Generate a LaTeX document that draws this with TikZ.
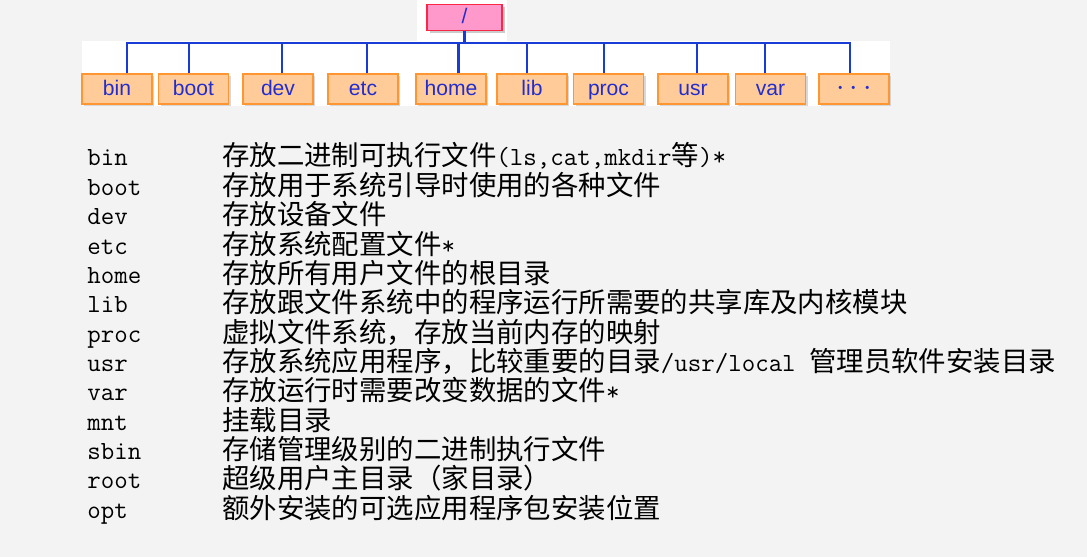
\documentclass[tikz,border=0pt]{standalone}
\usepackage{fontspec}
\setmainfont{Liberation Sans}
\newfontfamily\zh{Noto Sans CJK SC}
\usetikzlibrary{calc, shadows}
\definecolor{pagegray}{RGB}{243,243,243}
\definecolor{busblue}{RGB}{25,60,215}
\definecolor{labelblue}{RGB}{35,45,205}
\definecolor{rootpink}{RGB}{255,153,204}
\definecolor{rootred}{RGB}{250,40,70}
\definecolor{dirfill}{RGB}{255,204,153}
\definecolor{dirline}{RGB}{255,150,50}
\newcommand{\tx}[1]{{\ttfamily\fontsize{14.9}{17}\selectfont #1}}

\tikzset{
  rootbox/.style={draw=rootred, fill=rootpink, line width=0.8pt,
    minimum width=1.5cm, minimum height=0.52cm, inner sep=0pt,
    text height=1.6ex, text depth=0.3ex,
    text=labelblue, font=\fontsize{12}{13}\selectfont,
    drop shadow={shadow xshift=1.5pt, shadow yshift=-1.5pt, fill=black!40, opacity=0.5}},
  dirbox/.style={draw=dirline, fill=dirfill, line width=0.8pt,
    minimum width=1.4cm, minimum height=0.6cm, inner sep=0pt,
    text height=1.6ex, text depth=0.3ex,
    text=labelblue, font=\fontsize{12}{13}\selectfont,
    drop shadow={shadow xshift=1.2pt, shadow yshift=-1.2pt, fill=black!30, opacity=0.5}},
  link/.style={busblue, line width=1.2pt},
  dirkey/.style={anchor=base west, inner sep=0pt, font=\ttfamily\fontsize{14.9}{17}\selectfont},
  dirtxt/.style={anchor=base west, inner sep=0pt, font=\zh\fontsize{15.6}{18}\selectfont},
}

\begin{document}
\begin{tikzpicture}[x=0.02cm, y=-0.02cm]
  \useasboundingbox (0,0) rectangle (1087,557);
  \fill[pagegray] (0,0) rectangle (1087,557);
  % white panel behind the tree
  \fill[white] (82,41) rectangle (890,106);
  \fill[white] (417,0) rectangle (507,41);

  % tree
  \node[rootbox] (root) at (464.5,17.5) {/};
  \node[dirbox] (bin)  at (117,89)   {bin};
  \node[dirbox] (boot) at (193.5,89) {boot};
  \node[dirbox] (dev)  at (278,89)   {dev};
  \node[dirbox] (etc)  at (363,89)   {etc};
  \node[dirbox] (home) at (451,89)   {home};
  \node[dirbox] (lib)  at (532,89)   {lib};
  \node[dirbox] (proc) at (608.5,89) {proc};
  \node[dirbox] (usr)  at (693,89)   {usr};
  \node[dirbox] (var)  at (770.5,89) {var};
  \node[dirbox] (more) at (854,89)   {\fontsize{17}{17}\selectfont$\mathbf{\cdots}$};

  \coordinate (bus) at ($(root.south)+(0,12)$);
  \draw[link] (root.south) -- (bus);
  \draw[link] ($(bin.north)+(10,0)$) |- (bus);
  \draw[link] ($(boot.north)+(-4.5,0)$) |- (bus);
  \draw[link] ($(dev.north)+(4,0)$) |- (bus);
  \draw[link] ($(etc.north)+(4,0)$) |- (bus);
  \draw[link] ($(home.north)+(7.5,0)$) |- (bus);
  \draw[link] ($(lib.north)+(-5,0)$) |- (bus);
  \draw[link] ($(proc.north)+(-4.5,0)$) |- (bus);
  \draw[link] ($(usr.north)+(4,0)$) |- (bus);
  \draw[link] ($(var.north)+(-5.5,0)$) |- (bus);
  \draw[link] ($(more.north)+(-4,0)$) |- (bus);

  % list of directories
  \node[dirkey] (kbin)  at (87,166)   {bin};
  \node[dirtxt] (tbin)  at (222,166)  {存放二进制可执行文件\tx{(ls,cat,mkdir}等\tx{)*}};
  \node[dirkey] (kboot) at (87,195.3) {boot};
  \node[dirtxt] (tboot) at (222,195.3) {存放用于系统引导时使用的各种文件};
  \node[dirkey] (kdev)  at (87,224.7) {dev};
  \node[dirtxt] (tdev)  at (222,224.7) {存放设备文件};
  \node[dirkey] (ketc)  at (87,254)   {etc};
  \node[dirtxt] (tetc)  at (222,254)  {存放系统配置文件\tx{*}};
  \node[dirkey] (khome) at (87,283.3) {home};
  \node[dirtxt] (thome) at (222,283.3) {存放所有用户文件的根目录};
  \node[dirkey] (klib)  at (87,312.7) {lib};
  \node[dirtxt] (tlib)  at (222,312.7) {存放跟文件系统中的程序运行所需要的共享库及内核模块};
  \node[dirkey] (kproc) at (87,342)   {proc};
  \node[dirtxt] (tproc) at (222,342)  {虚拟文件系统，存放当前内存的映射};
  \node[dirkey] (kusr)  at (87,371.3) {usr};
  \node[dirtxt] (tusr)  at (222,371.3) {存放系统应用程序，比较重要的目录\tx{/usr/local }管理员软件安装目录};
  \node[dirkey] (kvar)  at (87,400.7) {var};
  \node[dirtxt] (tvar)  at (222,400.7) {存放运行时需要改变数据的文件\tx{*}};
  \node[dirkey] (kmnt)  at (87,430)   {mnt};
  \node[dirtxt] (tmnt)  at (222,430)  {挂载目录};
  \node[dirkey] (ksbin) at (87,459.3) {sbin};
  \node[dirtxt] (tsbin) at (222,459.3) {存储管理级别的二进制执行文件};
  \node[dirkey] (kroot) at (87,488.7) {root};
  \node[dirtxt] (troot) at (222,488.7) {超级用户主目录（家目录）};
  \node[dirkey] (kopt)  at (87,518)   {opt};
  \node[dirtxt] (topt)  at (222,518)  {额外安装的可选应用程序包安装位置};
\end{tikzpicture}
\end{document}
